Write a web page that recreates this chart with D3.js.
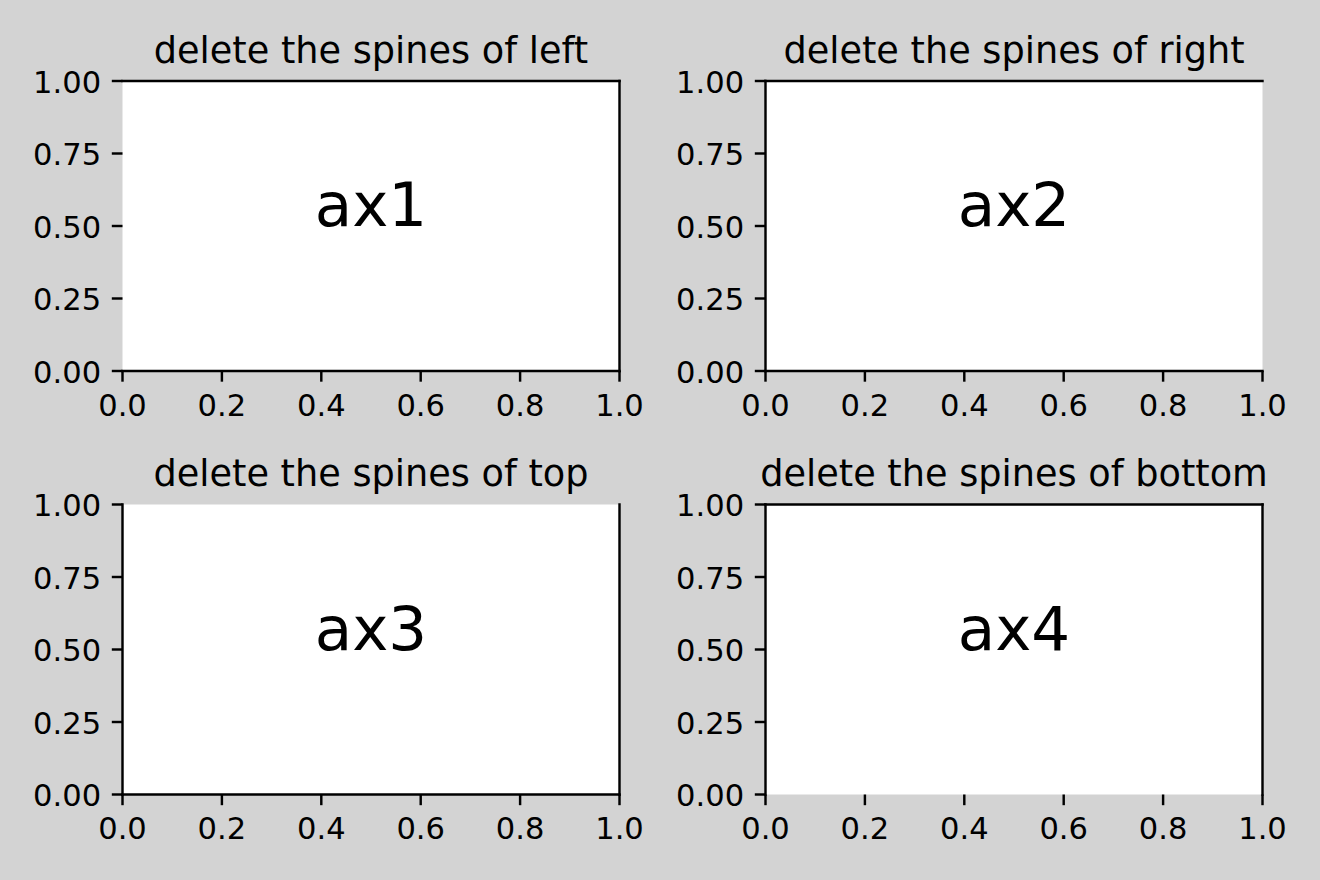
<!DOCTYPE html>
<html>
<head>
<meta charset="utf-8">
<script src="https://cdn.jsdelivr.net/npm/d3@7"></script>
<style>
  body { margin: 0; background: #d3d3d3; }
  svg { display: block; }
</style>
</head>
<body>
<div id="chart"></div>
<script>
var panelNames = ["ax1", "ax2", "ax3", "ax4"];
var hiddenSpines = ["left", "right", "top", "bottom"];
var panelTitles = hiddenSpines.map(function (s) { return "delete the spines of " + s; });
var xTicks = [0.0, 0.2, 0.4, 0.6, 0.8, 1.0];
var yTicks = [0.00, 0.25, 0.50, 0.75, 1.00];
var xDomain = [0, 1];
var yDomain = [0, 1];

var W = 1320, H = 880;
// figure at 220 dpi: 1pt = 220/72 px
var pt = 220 / 72;
var lw = 0.8 * pt;
var tickLen = 3.5 * pt;
var tickPad = 3.5 * pt;
var font = "'DejaVu Sans', sans-serif";

var colX = [122.5, 765.5];
var rowY = [81, 504.5];
var axW = 497, axH = 290;

var svg = d3.select("#chart").append("svg")
    .attr("width", W)
    .attr("height", H);

svg.append("rect")
    .attr("width", W)
    .attr("height", H)
    .attr("fill", "#d3d3d3");

panelNames.forEach(function (name, i) {
    var left = colX[i % 2];
    var top = rowY[Math.floor(i / 2)];

    var x = d3.scaleLinear().domain(xDomain).range([0, axW]);
    var y = d3.scaleLinear().domain(yDomain).range([axH, 0]);

    var g = svg.append("g")
        .attr("transform", "translate(" + left + "," + top + ")");

    g.append("rect")
        .attr("width", axW)
        .attr("height", axH)
        .attr("fill", "#ffffff");

    // x axis
    var gx = g.append("g")
        .attr("transform", "translate(0," + axH + ")")
        .call(d3.axisBottom(x).tickValues(xTicks).tickFormat(d3.format(".1f"))
            .tickSize(tickLen).tickPadding(tickPad).offset(0));
    // y axis
    var gy = g.append("g")
        .call(d3.axisLeft(y).tickValues(yTicks).tickFormat(d3.format(".2f"))
            .tickSize(tickLen).tickPadding(tickPad).offset(0));

    [gx, gy].forEach(function (ax) {
        ax.select(".domain").remove();
        ax.selectAll(".tick line")
            .attr("stroke", "#000")
            .attr("stroke-width", lw);
        ax.selectAll(".tick text")
            .attr("fill", "#000")
            .style("font-family", font)
            .style("font-size", (10 * pt) + "px");
    });
    gx.selectAll(".tick text").attr("dy", "0.76em");
    gy.selectAll(".tick text").attr("dy", "0.38em");

    // spines, one of them removed
    var spines = {
        left:   [0, 0, 0, axH],
        right:  [axW, 0, axW, axH],
        top:    [0, 0, axW, 0],
        bottom: [0, axH, axW, axH]
    };
    Object.keys(spines).forEach(function (side) {
        if (side === hiddenSpines[i]) return;
        var s = spines[side];
        g.append("line")
            .attr("x1", s[0]).attr("y1", s[1])
            .attr("x2", s[2]).attr("y2", s[3])
            .attr("stroke", "#000")
            .attr("stroke-width", lw)
            .attr("stroke-linecap", "square");
    });

    // title
    g.append("text")
        .attr("x", axW / 2)
        .attr("y", -6 * pt)
        .attr("text-anchor", "middle")
        .style("font-family", font)
        .style("font-size", (12 * pt) + "px")
        .attr("fill", "#000")
        .text(panelTitles[i]);

    // label in the middle
    g.append("text")
        .attr("x", x(0.5))
        .attr("y", y(0.5))
        .attr("text-anchor", "middle")
        .style("font-family", font)
        .style("font-size", (20 * pt) + "px")
        .attr("fill", "#000")
        .text(name);
});
</script>
</body>
</html>
